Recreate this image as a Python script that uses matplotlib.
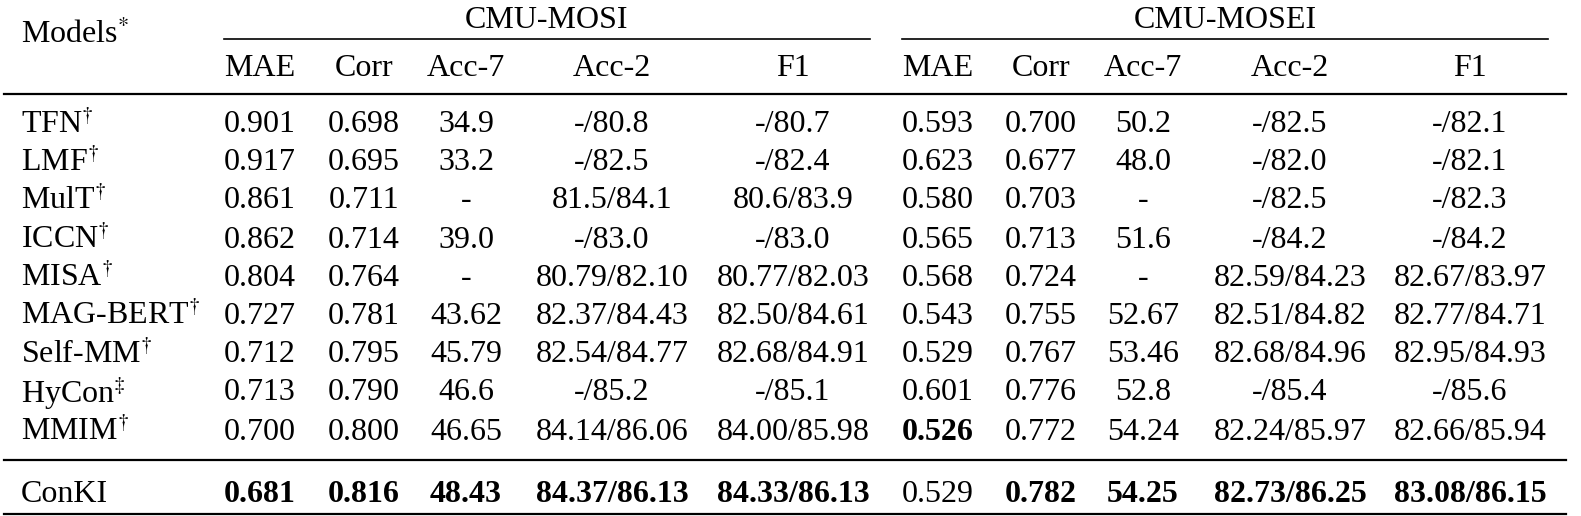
import matplotlib.pyplot as plt

models = ["TFN$^{\\dagger}$", "LMF$^{\\dagger}$", "MulT$^{\\dagger}$", "ICCN$^{\\dagger}$", "MISA$^{\\dagger}$",
          "MAG-BERT$^{\\dagger}$", "Self-MM$^{\\dagger}$", "HyCon$^{\\ddagger}$", "MMIM$^{\\dagger}$"]
metrics = ["MAE", "Corr", "Acc-7", "Acc-2", "F1"]
mosi = [
    ["0.901", "0.698", "34.9", "-/80.8", "-/80.7"],
    ["0.917", "0.695", "33.2", "-/82.5", "-/82.4"],
    ["0.861", "0.711", "-", "81.5/84.1", "80.6/83.9"],
    ["0.862", "0.714", "39.0", "-/83.0", "-/83.0"],
    ["0.804", "0.764", "-", "80.79/82.10", "80.77/82.03"],
    ["0.727", "0.781", "43.62", "82.37/84.43", "82.50/84.61"],
    ["0.712", "0.795", "45.79", "82.54/84.77", "82.68/84.91"],
    ["0.713", "0.790", "46.6", "-/85.2", "-/85.1"],
    ["0.700", "0.800", "46.65", "84.14/86.06", "84.00/85.98"],
]
mosei = [
    ["0.593", "0.700", "50.2", "-/82.5", "-/82.1"],
    ["0.623", "0.677", "48.0", "-/82.0", "-/82.1"],
    ["0.580", "0.703", "-", "-/82.5", "-/82.3"],
    ["0.565", "0.713", "51.6", "-/84.2", "-/84.2"],
    ["0.568", "0.724", "-", "82.59/84.23", "82.67/83.97"],
    ["0.543", "0.755", "52.67", "82.51/84.82", "82.77/84.71"],
    ["0.529", "0.767", "53.46", "82.68/84.96", "82.95/84.93"],
    ["0.601", "0.776", "52.8", "-/85.4", "-/85.6"],
    ["0.526", "0.772", "54.24", "82.24/85.97", "82.66/85.94"],
]
conki = ["0.681", "0.816", "48.43", "84.37/86.13", "84.33/86.13",
         "0.529", "0.782", "54.25", "82.73/86.25", "83.08/86.15"]
conki_bold = [True] * 5 + [False] + [True] * 4

plt.rcParams['font.family'] = ['Liberation Serif', 'DejaVu Serif']
plt.rcParams['mathtext.fontset'] = 'stix'
W, H = 1581, 516
fig = plt.figure(figsize=(W / 100, H / 100), dpi=100)
ax = fig.add_axes([0, 0, 1, 1])
ax.set_xlim(0, W)
ax.set_ylim(H, 0)
ax.axis('off')

fs = 23
col_x = [260, 364, 466, 612, 793, 938, 1041, 1143, 1290, 1470]
row_y = [125, 163, 201, 240, 278, 316, 355, 393, 432]

ax.text(21, 35, "Models$^{*}$", fontsize=fs, va='center', ha='left')
ax.text(546, 21, "CMU-MOSI", fontsize=fs, va='center', ha='center')
ax.text(1225, 21, "CMU-MOSEI", fontsize=fs, va='center', ha='center')
ax.plot([224, 870], [39, 39], color='black', lw=1.2)
ax.plot([902, 1548], [39, 39], color='black', lw=1.2)
for x, m in zip(col_x, metrics + metrics):
    ax.text(x, 69, m, fontsize=fs, va='center', ha='center')
for y in [94, 460, 514]:
    ax.plot([4, 1566], [y, y], color='black', lw=1.6)

for i, name in enumerate(models):
    y = row_y[i]
    ax.text(21, y, name, fontsize=fs, va='center', ha='left')
    for x, v in zip(col_x, mosi[i] + mosei[i]):
        bold = (i == 8 and v == "0.526")
        ax.text(x, y, v, fontsize=fs, va='center', ha='center',
                fontweight='bold' if bold else 'normal')

ax.text(21, 494, "ConKI", fontsize=fs, va='center', ha='left')
for x, v, b in zip(col_x, conki, conki_bold):
    ax.text(x, 494, v, fontsize=fs, va='center', ha='center',
            fontweight='bold' if b else 'normal')

fig.savefig("out.png", dpi=100)
